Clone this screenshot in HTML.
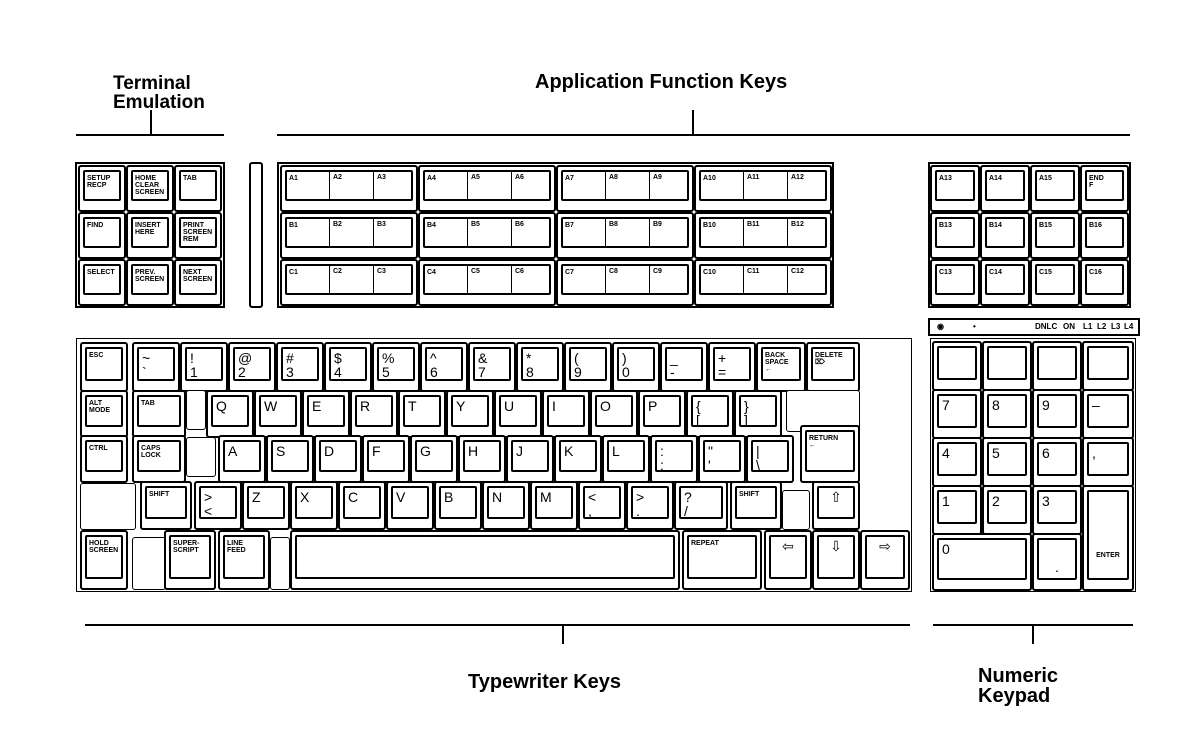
<!DOCTYPE html>
<html><head><style>
body{margin:0;background:#fff;width:1200px;height:754px;position:relative;overflow:hidden;font-family:"Liberation Sans",sans-serif;color:#000}
.k{position:absolute;border:2px solid #000;border-radius:3px;background:#fff;box-sizing:border-box}
.f{position:absolute;left:3px;right:3px;top:3px;bottom:9px;border:2px solid #000;border-radius:2px;box-sizing:border-box;font-weight:bold;font-size:7px;line-height:7px;padding:3px 2px;overflow:hidden}
.b .f{font-size:14px;line-height:14px;font-weight:normal;padding:2px 3px}
.g{position:absolute;border:2px solid #000;box-sizing:border-box}
.l{position:absolute;background:#000}
.t{position:absolute;font-weight:bold;font-size:20px;line-height:20px}
.s{font-size:11px;line-height:12px}
.st{position:absolute;top:3px;font-size:8px;font-weight:bold;line-height:9px}
</style></head><body>
<div class="t" style="left:113px;top:74px;font-size:19px;line-height:19px">Terminal<br>Emulation</div>
<div class="t" style="left:535px;top:72px">Application Function Keys</div>
<div class="l" style="left:76px;top:134px;width:148px;height:2px"></div>
<div class="l" style="left:150px;top:110px;width:2px;height:25px"></div>
<div class="l" style="left:277px;top:134px;width:853px;height:2px"></div>
<div class="l" style="left:692px;top:110px;width:2px;height:25px"></div>
<div class="l" style="left:85px;top:624px;width:825px;height:2px"></div>
<div class="l" style="left:562px;top:624px;width:2px;height:20px"></div>
<div class="l" style="left:933px;top:624px;width:200px;height:2px"></div>
<div class="l" style="left:1032px;top:624px;width:2px;height:20px"></div>
<div class="t" style="left:468px;top:672px">Typewriter Keys</div>
<div class="t" style="left:978px;top:666px">Numeric<br>Keypad</div>

<!-- terminal emulation -->
<div class="g" style="left:75px;top:162px;width:150px;height:146px"></div>
<div class="k" style="left:78px;top:165px;width:48px;height:47px"><div class="f">SETUP<br>RECP</div></div>
<div class="k" style="left:126px;top:165px;width:48px;height:47px"><div class="f">HOME<br>CLEAR<br>SCREEN</div></div>
<div class="k" style="left:174px;top:165px;width:48px;height:47px"><div class="f">TAB</div></div>
<div class="k" style="left:78px;top:212px;width:48px;height:47px"><div class="f">FIND</div></div>
<div class="k" style="left:126px;top:212px;width:48px;height:47px"><div class="f">INSERT<br>HERE</div></div>
<div class="k" style="left:174px;top:212px;width:48px;height:47px"><div class="f">PRINT<br>SCREEN<br>REM</div></div>
<div class="k" style="left:78px;top:259px;width:48px;height:47px"><div class="f">SELECT</div></div>
<div class="k" style="left:126px;top:259px;width:48px;height:47px"><div class="f">PREV.<br>SCREEN</div></div>
<div class="k" style="left:174px;top:259px;width:48px;height:47px"><div class="f">NEXT<br>SCREEN</div></div>
<div class="g" style="left:249px;top:162px;width:14px;height:146px;border-radius:3px"></div>

<!-- function keys -->
<div class="g" style="left:277px;top:162px;width:557px;height:146px"></div>
<div class="k" style="left:280px;top:165px;width:138px;height:47px"><div class="f">A1</div></div>
<div class="k" style="left:418px;top:165px;width:138px;height:47px"><div class="f">A4</div></div>
<div class="k" style="left:556px;top:165px;width:138px;height:47px"><div class="f">A7</div></div>
<div class="k" style="left:694px;top:165px;width:138px;height:47px"><div class="f">A10</div></div>
<div class="k" style="left:280px;top:212px;width:138px;height:47px"><div class="f">B1</div></div>
<div class="k" style="left:418px;top:212px;width:138px;height:47px"><div class="f">B4</div></div>
<div class="k" style="left:556px;top:212px;width:138px;height:47px"><div class="f">B7</div></div>
<div class="k" style="left:694px;top:212px;width:138px;height:47px"><div class="f">B10</div></div>
<div class="k" style="left:280px;top:259px;width:138px;height:47px"><div class="f">C1</div></div>
<div class="k" style="left:418px;top:259px;width:138px;height:47px"><div class="f">C4</div></div>
<div class="k" style="left:556px;top:259px;width:138px;height:47px"><div class="f">C7</div></div>
<div class="k" style="left:694px;top:259px;width:138px;height:47px"><div class="f">C10</div></div>
<div style="position:absolute;left:0;top:0;font-size:7px;font-weight:bold">
<span style="position:absolute;left:333px;top:174px">A2</span><span style="position:absolute;left:377px;top:174px">A3</span>
<span style="position:absolute;left:471px;top:174px">A5</span><span style="position:absolute;left:515px;top:174px">A6</span>
<span style="position:absolute;left:609px;top:174px">A8</span><span style="position:absolute;left:653px;top:174px">A9</span>
<span style="position:absolute;left:747px;top:174px">A11</span><span style="position:absolute;left:791px;top:174px">A12</span>
<span style="position:absolute;left:333px;top:221px">B2</span><span style="position:absolute;left:377px;top:221px">B3</span>
<span style="position:absolute;left:471px;top:221px">B5</span><span style="position:absolute;left:515px;top:221px">B6</span>
<span style="position:absolute;left:609px;top:221px">B8</span><span style="position:absolute;left:653px;top:221px">B9</span>
<span style="position:absolute;left:747px;top:221px">B11</span><span style="position:absolute;left:791px;top:221px">B12</span>
<span style="position:absolute;left:333px;top:268px">C2</span><span style="position:absolute;left:377px;top:268px">C3</span>
<span style="position:absolute;left:471px;top:268px">C5</span><span style="position:absolute;left:515px;top:268px">C6</span>
<span style="position:absolute;left:609px;top:268px">C8</span><span style="position:absolute;left:653px;top:268px">C9</span>
<span style="position:absolute;left:747px;top:268px">C11</span><span style="position:absolute;left:791px;top:268px">C12</span>
</div>
<div class="l" style="left:329px;top:170px;width:1px;height:31px"></div><div class="l" style="left:373px;top:170px;width:1px;height:31px"></div>
<div class="l" style="left:467px;top:170px;width:1px;height:31px"></div><div class="l" style="left:511px;top:170px;width:1px;height:31px"></div>
<div class="l" style="left:605px;top:170px;width:1px;height:31px"></div><div class="l" style="left:649px;top:170px;width:1px;height:31px"></div>
<div class="l" style="left:743px;top:170px;width:1px;height:31px"></div><div class="l" style="left:787px;top:170px;width:1px;height:31px"></div>
<div class="l" style="left:329px;top:217px;width:1px;height:31px"></div><div class="l" style="left:373px;top:217px;width:1px;height:31px"></div>
<div class="l" style="left:467px;top:217px;width:1px;height:31px"></div><div class="l" style="left:511px;top:217px;width:1px;height:31px"></div>
<div class="l" style="left:605px;top:217px;width:1px;height:31px"></div><div class="l" style="left:649px;top:217px;width:1px;height:31px"></div>
<div class="l" style="left:743px;top:217px;width:1px;height:31px"></div><div class="l" style="left:787px;top:217px;width:1px;height:31px"></div>
<div class="l" style="left:329px;top:264px;width:1px;height:31px"></div><div class="l" style="left:373px;top:264px;width:1px;height:31px"></div>
<div class="l" style="left:467px;top:264px;width:1px;height:31px"></div><div class="l" style="left:511px;top:264px;width:1px;height:31px"></div>
<div class="l" style="left:605px;top:264px;width:1px;height:31px"></div><div class="l" style="left:649px;top:264px;width:1px;height:31px"></div>
<div class="l" style="left:743px;top:264px;width:1px;height:31px"></div><div class="l" style="left:787px;top:264px;width:1px;height:31px"></div>

<!-- right function keys -->
<div class="g" style="left:928px;top:162px;width:203px;height:146px"></div>
<div class="k" style="left:930px;top:165px;width:50px;height:47px"><div class="f">A13</div></div>
<div class="k" style="left:980px;top:165px;width:50px;height:47px"><div class="f">A14</div></div>
<div class="k" style="left:1030px;top:165px;width:50px;height:47px"><div class="f">A15</div></div>
<div class="k" style="left:1080px;top:165px;width:49px;height:47px"><div class="f">END<br>F</div></div>
<div class="k" style="left:930px;top:212px;width:50px;height:47px"><div class="f">B13</div></div>
<div class="k" style="left:980px;top:212px;width:50px;height:47px"><div class="f">B14</div></div>
<div class="k" style="left:1030px;top:212px;width:50px;height:47px"><div class="f">B15</div></div>
<div class="k" style="left:1080px;top:212px;width:49px;height:47px"><div class="f">B16</div></div>
<div class="k" style="left:930px;top:259px;width:50px;height:47px"><div class="f">C13</div></div>
<div class="k" style="left:980px;top:259px;width:50px;height:47px"><div class="f">C14</div></div>
<div class="k" style="left:1030px;top:259px;width:50px;height:47px"><div class="f">C15</div></div>
<div class="k" style="left:1080px;top:259px;width:49px;height:47px"><div class="f">C16</div></div>

<!-- typewriter row1 -->
<div class="g" style="left:76px;top:338px;width:836px;height:254px;border-width:1px"></div>
<div class="k" style="left:80px;top:342px;width:48px;height:50px"><div class="f">ESC</div></div>
<div class="k b" style="left:132px;top:342px;width:48px;height:50px"><div class="f s">~<br>`</div></div>
<div class="k b" style="left:180px;top:342px;width:48px;height:50px"><div class="f s">!<br>1</div></div>
<div class="k b" style="left:228px;top:342px;width:48px;height:50px"><div class="f s">@<br>2</div></div>
<div class="k b" style="left:276px;top:342px;width:48px;height:50px"><div class="f s">#<br>3</div></div>
<div class="k b" style="left:324px;top:342px;width:48px;height:50px"><div class="f s">$<br>4</div></div>
<div class="k b" style="left:372px;top:342px;width:48px;height:50px"><div class="f s">%<br>5</div></div>
<div class="k b" style="left:420px;top:342px;width:48px;height:50px"><div class="f s">^<br>6</div></div>
<div class="k b" style="left:468px;top:342px;width:48px;height:50px"><div class="f s">&amp;<br>7</div></div>
<div class="k b" style="left:516px;top:342px;width:48px;height:50px"><div class="f s">*<br>8</div></div>
<div class="k b" style="left:564px;top:342px;width:48px;height:50px"><div class="f s">(<br>9</div></div>
<div class="k b" style="left:612px;top:342px;width:48px;height:50px"><div class="f s">)<br>0</div></div>
<div class="k b" style="left:660px;top:342px;width:48px;height:50px"><div class="f s">_<br>-</div></div>
<div class="k b" style="left:708px;top:342px;width:48px;height:50px"><div class="f s">+<br>=</div></div>
<div class="k" style="left:756px;top:342px;width:50px;height:50px"><div class="f">BACK<br>SPACE<br>&larr;</div></div>
<div class="k" style="left:806px;top:342px;width:54px;height:50px"><div class="f">DELETE<br>&#8998;</div></div>
<!-- row2 -->
<div class="k" style="left:80px;top:390px;width:48px;height:48px"><div class="f">ALT<br>MODE</div></div>
<div class="k" style="left:132px;top:390px;width:54px;height:48px"><div class="f">TAB</div></div>
<div class="k" style="left:186px;top:390px;width:20px;height:40px;border-width:1px"></div>
<div class="k b" style="left:206px;top:390px;width:48px;height:48px"><div class="f">Q</div></div>
<div class="k b" style="left:254px;top:390px;width:48px;height:48px"><div class="f">W</div></div>
<div class="k b" style="left:302px;top:390px;width:48px;height:48px"><div class="f">E</div></div>
<div class="k b" style="left:350px;top:390px;width:48px;height:48px"><div class="f">R</div></div>
<div class="k b" style="left:398px;top:390px;width:48px;height:48px"><div class="f">T</div></div>
<div class="k b" style="left:446px;top:390px;width:48px;height:48px"><div class="f">Y</div></div>
<div class="k b" style="left:494px;top:390px;width:48px;height:48px"><div class="f">U</div></div>
<div class="k b" style="left:542px;top:390px;width:48px;height:48px"><div class="f">I</div></div>
<div class="k b" style="left:590px;top:390px;width:48px;height:48px"><div class="f">O</div></div>
<div class="k b" style="left:638px;top:390px;width:48px;height:48px"><div class="f">P</div></div>
<div class="k b" style="left:686px;top:390px;width:48px;height:48px"><div class="f s">{<br>[</div></div>
<div class="k b" style="left:734px;top:390px;width:48px;height:48px"><div class="f s">}<br>]</div></div>
<div class="k" style="left:786px;top:390px;width:74px;height:42px;border-width:1px"></div>
<!-- row3 -->
<div class="k" style="left:80px;top:435px;width:48px;height:48px"><div class="f">CTRL</div></div>
<div class="k" style="left:132px;top:435px;width:54px;height:48px"><div class="f">CAPS<br>LOCK</div></div>
<div class="k" style="left:186px;top:437px;width:30px;height:40px;border-width:1px"></div>
<div class="k b" style="left:218px;top:435px;width:48px;height:48px"><div class="f">A</div></div>
<div class="k b" style="left:266px;top:435px;width:48px;height:48px"><div class="f">S</div></div>
<div class="k b" style="left:314px;top:435px;width:48px;height:48px"><div class="f">D</div></div>
<div class="k b" style="left:362px;top:435px;width:48px;height:48px"><div class="f">F</div></div>
<div class="k b" style="left:410px;top:435px;width:48px;height:48px"><div class="f">G</div></div>
<div class="k b" style="left:458px;top:435px;width:48px;height:48px"><div class="f">H</div></div>
<div class="k b" style="left:506px;top:435px;width:48px;height:48px"><div class="f">J</div></div>
<div class="k b" style="left:554px;top:435px;width:48px;height:48px"><div class="f">K</div></div>
<div class="k b" style="left:602px;top:435px;width:48px;height:48px"><div class="f">L</div></div>
<div class="k b" style="left:650px;top:435px;width:48px;height:48px"><div class="f s">:<br>;</div></div>
<div class="k b" style="left:698px;top:435px;width:48px;height:48px"><div class="f s">"<br>'</div></div>
<div class="k b" style="left:746px;top:435px;width:48px;height:48px"><div class="f s">|<br>\</div></div>
<div class="k" style="left:800px;top:425px;width:60px;height:58px"><div class="f">RETURN<br>&larr;</div></div>
<!-- row4 -->
<div class="k" style="left:80px;top:483px;width:56px;height:47px;border-width:1px"></div>
<div class="k" style="left:140px;top:481px;width:52px;height:49px"><div class="f">SHIFT</div></div>
<div class="k b" style="left:194px;top:481px;width:48px;height:49px"><div class="f s">&gt;<br>&lt;</div></div>
<div class="k b" style="left:242px;top:481px;width:48px;height:49px"><div class="f">Z</div></div>
<div class="k b" style="left:290px;top:481px;width:48px;height:49px"><div class="f">X</div></div>
<div class="k b" style="left:338px;top:481px;width:48px;height:49px"><div class="f">C</div></div>
<div class="k b" style="left:386px;top:481px;width:48px;height:49px"><div class="f">V</div></div>
<div class="k b" style="left:434px;top:481px;width:48px;height:49px"><div class="f">B</div></div>
<div class="k b" style="left:482px;top:481px;width:48px;height:49px"><div class="f">N</div></div>
<div class="k b" style="left:530px;top:481px;width:48px;height:49px"><div class="f">M</div></div>
<div class="k b" style="left:578px;top:481px;width:48px;height:49px"><div class="f s">&lt;<br>,</div></div>
<div class="k b" style="left:626px;top:481px;width:48px;height:49px"><div class="f s">&gt;<br>.</div></div>
<div class="k b" style="left:674px;top:481px;width:54px;height:49px"><div class="f s">?<br>/</div></div>
<div class="k" style="left:730px;top:481px;width:52px;height:49px"><div class="f">SHIFT</div></div>
<div class="k" style="left:782px;top:490px;width:28px;height:40px;border-width:1px"></div>
<div class="k b" style="left:812px;top:481px;width:48px;height:49px"><div class="f" style="text-align:center">&#8679;</div></div>
<!-- row5 -->
<div class="k" style="left:80px;top:530px;width:48px;height:60px"><div class="f">HOLD<br>SCREEN</div></div>
<div class="k" style="left:132px;top:537px;width:34px;height:53px;border-width:1px"></div>
<div class="k" style="left:164px;top:530px;width:52px;height:60px"><div class="f">SUPER-<br>SCRIPT</div></div>
<div class="k" style="left:218px;top:530px;width:52px;height:60px"><div class="f">LINE<br>FEED</div></div>
<div class="k" style="left:270px;top:537px;width:20px;height:53px;border-width:1px"></div>
<div class="k" style="left:290px;top:530px;width:390px;height:60px"><div class="f"></div></div>
<div class="k" style="left:682px;top:530px;width:80px;height:60px"><div class="f">REPEAT</div></div>
<div class="k b" style="left:764px;top:530px;width:48px;height:60px"><div class="f" style="text-align:center">&#8678;</div></div>
<div class="k b" style="left:812px;top:530px;width:48px;height:60px"><div class="f" style="text-align:center">&#8681;</div></div>
<div class="k b" style="left:860px;top:530px;width:50px;height:60px"><div class="f" style="text-align:center">&#8680;</div></div>

<!-- numeric keypad -->
<div class="g" style="left:928px;top:318px;width:212px;height:18px"></div>
<span class="st" style="left:937px;top:322px">&#9673;</span>
<span class="st" style="left:973px;top:322px">&#8226;</span>
<span class="st" style="left:1035px;top:322px">DNLC</span>
<span class="st" style="left:1063px;top:322px">ON</span>
<span class="st" style="left:1083px;top:322px">L1</span>
<span class="st" style="left:1097px;top:322px">L2</span>
<span class="st" style="left:1111px;top:322px">L3</span>
<span class="st" style="left:1124px;top:322px">L4</span>
<div class="g" style="left:930px;top:338px;width:206px;height:254px;border-width:1px"></div>
<div class="k" style="left:932px;top:341px;width:50px;height:50px"><div class="f"></div></div>
<div class="k" style="left:982px;top:341px;width:50px;height:50px"><div class="f"></div></div>
<div class="k" style="left:1032px;top:341px;width:50px;height:50px"><div class="f"></div></div>
<div class="k" style="left:1082px;top:341px;width:52px;height:50px"><div class="f"></div></div>
<div class="k b" style="left:932px;top:389px;width:50px;height:50px"><div class="f">7</div></div>
<div class="k b" style="left:982px;top:389px;width:50px;height:50px"><div class="f">8</div></div>
<div class="k b" style="left:1032px;top:389px;width:50px;height:50px"><div class="f">9</div></div>
<div class="k b" style="left:1082px;top:389px;width:52px;height:50px"><div class="f">&ndash;</div></div>
<div class="k b" style="left:932px;top:437px;width:50px;height:50px"><div class="f">4</div></div>
<div class="k b" style="left:982px;top:437px;width:50px;height:50px"><div class="f">5</div></div>
<div class="k b" style="left:1032px;top:437px;width:50px;height:50px"><div class="f">6</div></div>
<div class="k b" style="left:1082px;top:437px;width:52px;height:50px"><div class="f">,</div></div>
<div class="k b" style="left:932px;top:485px;width:50px;height:50px"><div class="f">1</div></div>
<div class="k b" style="left:982px;top:485px;width:50px;height:50px"><div class="f">2</div></div>
<div class="k b" style="left:1032px;top:485px;width:50px;height:50px"><div class="f">3</div></div>
<div class="k" style="left:1082px;top:485px;width:52px;height:106px"><div class="f" style="padding-top:60px;text-align:center">ENTER</div></div>
<div class="k b" style="left:932px;top:533px;width:100px;height:58px"><div class="f">0</div></div>
<div class="k b" style="left:1032px;top:533px;width:50px;height:58px"><div class="f" style="text-align:center;padding-top:20px">.</div></div>
</body></html>
